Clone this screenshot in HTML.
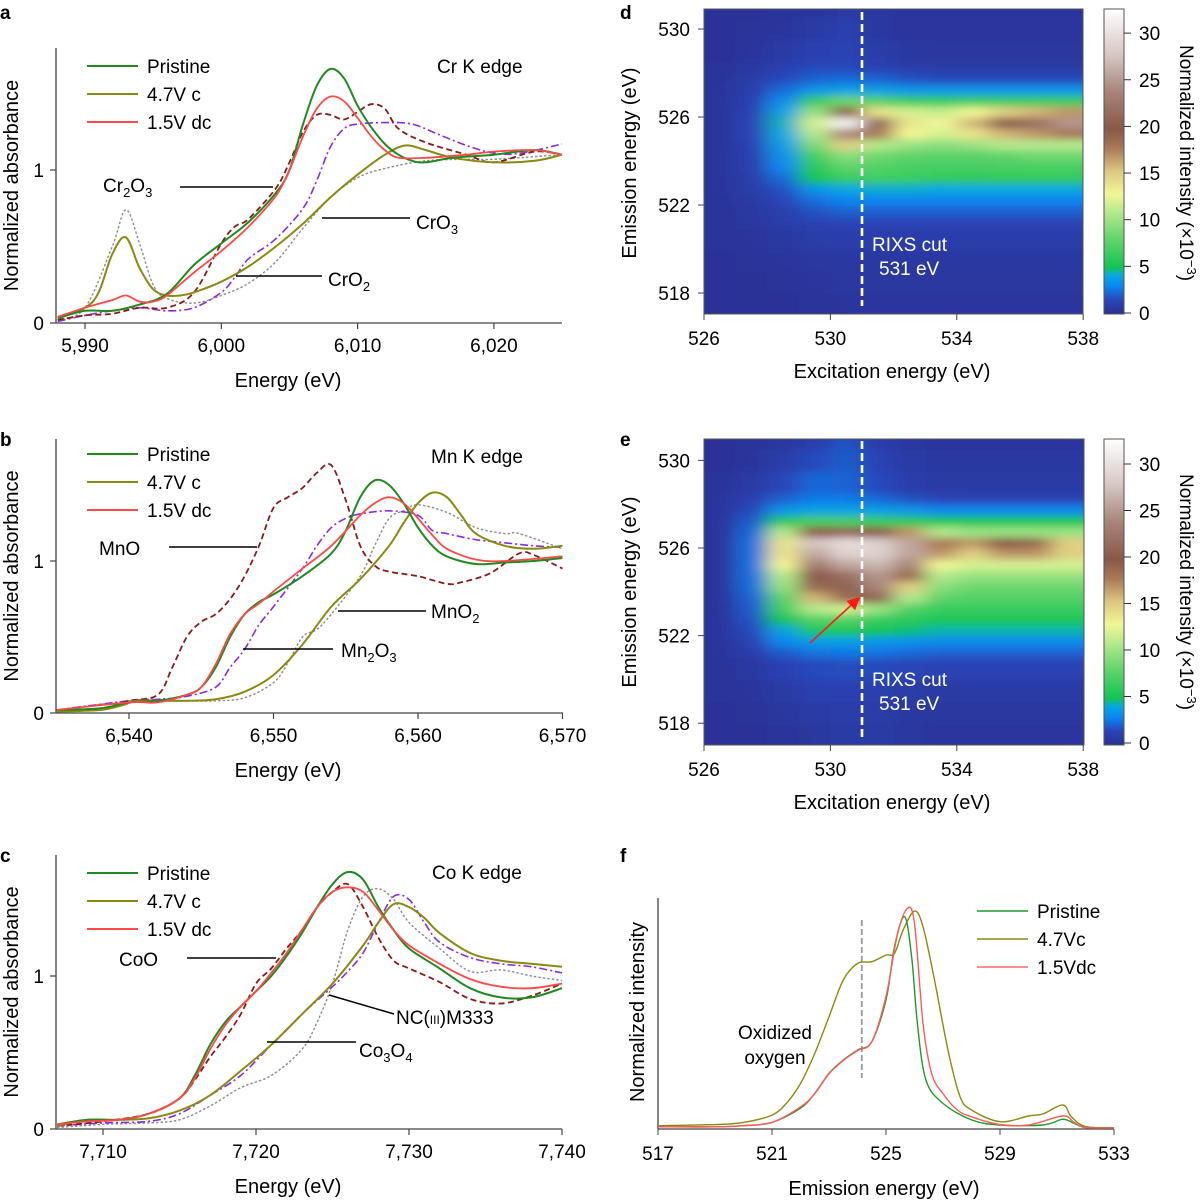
<!DOCTYPE html>
<html><head><meta charset="utf-8">
<style>
html,body{margin:0;padding:0;background:#fff;}
svg{display:block;font-family:"Liberation Sans",Arial,sans-serif;}
</style></head>
<body>
<svg id="fig" width="1200" height="1200" viewBox="0 0 1200 1200" xmlns="http://www.w3.org/2000/svg">
<defs>
<filter id="blurD" x="-5%" y="-5%" width="110%" height="110%"><feGaussianBlur stdDeviation="10 4"/></filter>
<clipPath id="clipD"><rect x="704" y="9" width="379" height="305"/></clipPath>
<clipPath id="clipE"><rect x="704" y="439" width="380" height="306"/></clipPath>
<linearGradient id="cbGrad" x1="0" y1="1" x2="0" y2="0"></linearGradient>
<marker id="arrowHead" markerWidth="8" markerHeight="8" refX="7" refY="4" orient="auto"><path d="M0,0 L8,4 L0,8 z" fill="#ff1a1a"/></marker>
</defs>
<text x="0" y="19" font-size="19" font-weight="bold">a</text>
<text x="0" y="446" font-size="19" font-weight="bold">b</text>
<text x="0" y="862" font-size="19" font-weight="bold">c</text>
<text x="620" y="19" font-size="19" font-weight="bold">d</text>
<text x="620" y="446" font-size="19" font-weight="bold">e</text>
<text x="620" y="862" font-size="19" font-weight="bold">f</text>

<g id="pa"></g>
<g id="pb"></g>
<g id="pc"></g>
<g id="pd"></g>
<g id="pe"></g>
<g id="pf"></g>

<g font-size="19">
<text x="103" y="192">Cr<tspan font-size="13" dy="5">2</tspan><tspan dy="-5">O</tspan><tspan font-size="13" dy="5">3</tspan></text>
<line x1="180" y1="187" x2="273" y2="187" stroke="#000" stroke-width="1.5"/>
<line x1="322" y1="218" x2="410" y2="218" stroke="#000" stroke-width="1.5"/>
<text x="416" y="229">CrO<tspan font-size="13" dy="5">3</tspan></text>
<line x1="236" y1="276" x2="322" y2="276" stroke="#000" stroke-width="1.5"/>
<text x="328" y="286">CrO<tspan font-size="13" dy="5">2</tspan></text>
<text x="437" y="73">Cr K edge</text>
</g>
<g font-size="19">
<text x="99" y="555">MnO</text>
<line x1="169" y1="547" x2="257" y2="547" stroke="#000" stroke-width="1.5"/>
<line x1="338" y1="611" x2="426" y2="611" stroke="#000" stroke-width="1.5"/>
<text x="431" y="618">MnO<tspan font-size="13" dy="5">2</tspan></text>
<line x1="243" y1="649" x2="333" y2="649" stroke="#000" stroke-width="1.5"/>
<text x="341" y="657">Mn<tspan font-size="13" dy="5">2</tspan><tspan dy="-5">O</tspan><tspan font-size="13" dy="5">3</tspan></text>
<text x="431" y="463">Mn K edge</text>
</g>
<g font-size="19">
<text x="119" y="966">CoO</text>
<line x1="187" y1="958" x2="276" y2="958" stroke="#000" stroke-width="1.5"/>
<line x1="329" y1="995" x2="394" y2="1014" stroke="#000" stroke-width="1.5"/>
<text x="396" y="1024">NC(<tspan font-size="12">III</tspan>)M333</text>
<line x1="267" y1="1042" x2="356" y2="1042" stroke="#000" stroke-width="1.5"/>
<text x="359" y="1057">Co<tspan font-size="13" dy="5">3</tspan><tspan dy="-5">O</tspan><tspan font-size="13" dy="5">4</tspan></text>
<text x="432" y="879">Co K edge</text>
</g>
</svg>
<script>
// ===== Panel a: Cr K edge =====
const aTicks=[5990,6000,6010,6020];
const aTickLabels=["5,990","6,000","6,010","6,020"];
const aPristine=[[5988,0.03],[5990,0.08],[5992,0.08],[5994,0.12],[5996,0.19],[5998,0.38],[6000,0.52],[6002,0.66],[6004,0.85],[6005,1.0],[6006,1.3],[6007,1.55],[6008,1.66],[6009,1.6],[6010,1.42],[6011,1.28],[6012,1.17],[6013,1.1],[6014,1.06],[6015,1.05],[6017,1.08],[6020,1.1],[6023,1.13],[6025,1.1]];
const aCharged=[[5988,0.04],[5990,0.1],[5991,0.2],[5992,0.45],[5993,0.56],[5994,0.36],[5995,0.22],[5996,0.18],[5997,0.18],[5998,0.2],[6000,0.27],[6002,0.37],[6004,0.5],[6006,0.65],[6008,0.82],[6010,0.97],[6012,1.1],[6013.5,1.16],[6015,1.13],[6017,1.08],[6020,1.05],[6023,1.06],[6025,1.1]];
const aDischarged=[[5988,0.04],[5990,0.1],[5992,0.15],[5993,0.18],[5994,0.14],[5995,0.14],[5996,0.18],[5998,0.33],[6000,0.47],[6002,0.63],[6004,0.83],[6005,1.0],[6006,1.22],[6007,1.4],[6008,1.48],[6009,1.45],[6010,1.34],[6011,1.22],[6012,1.13],[6013,1.08],[6015,1.08],[6018,1.1],[6020,1.12],[6023,1.13],[6025,1.1]];
const aCr2O3=[[5988,0.02],[5990,0.05],[5992,0.06],[5994,0.1],[5996,0.1],[5998,0.2],[6000,0.52],[6001,0.63],[6002,0.68],[6004,0.88],[6005,1.05],[6006,1.25],[6007,1.36],[6008,1.36],[6009,1.33],[6010,1.38],[6011,1.43],[6012,1.4],[6013,1.27],[6015,1.18],[6018,1.1],[6020,1.05],[6023,1.12],[6025,1.1]];
const aCrO2=[[5988,0.01],[5990,0.05],[5992,0.08],[5994,0.1],[5996,0.08],[5998,0.1],[6000,0.2],[6001,0.3],[6002,0.42],[6004,0.55],[6006,0.75],[6007,0.93],[6008,1.15],[6009,1.27],[6010,1.3],[6012,1.31],[6014,1.3],[6016,1.23],[6018,1.16],[6020,1.11],[6022,1.11],[6025,1.17]];
const aCrO3=[[5988,0.02],[5990,0.1],[5992,0.5],[5993,0.74],[5994,0.52],[5995,0.25],[5996,0.16],[5998,0.13],[6000,0.18],[6002,0.26],[6004,0.4],[6006,0.62],[6008,0.82],[6010,0.95],[6012,1.01],[6015,1.06],[6018,1.07],[6020,1.07],[6025,1.1]];
// ===== Panel b: Mn K edge =====
const bTicks=[6540,6550,6560,6570];
const bTickLabels=["6,540","6,550","6,560","6,570"];
const bPristine=[[6535,0.02],[6538,0.03],[6540,0.07],[6542,0.08],[6544,0.12],[6545,0.17],[6546,0.3],[6547,0.5],[6548,0.65],[6549,0.73],[6550,0.78],[6552,0.9],[6554,1.05],[6555,1.2],[6556,1.42],[6557,1.53],[6558,1.5],[6559,1.38],[6560,1.22],[6561,1.1],[6562,1.03],[6564,0.98],[6566,0.99],[6568,1.0],[6570,1.02]];
const bCharged=[[6535,0.01],[6538,0.02],[6539.5,0.05],[6540.5,0.08],[6542,0.08],[6544,0.08],[6546,0.09],[6548,0.14],[6550,0.25],[6552,0.45],[6554,0.7],[6556,0.88],[6558,1.1],[6559,1.25],[6560,1.38],[6561,1.45],[6562,1.42],[6563,1.3],[6564,1.18],[6566,1.1],[6568,1.08],[6570,1.1]];
const bDischarged=[[6535,0.02],[6540,0.07],[6542,0.07],[6544,0.12],[6545,0.17],[6546,0.32],[6547,0.52],[6548,0.65],[6549,0.72],[6550,0.8],[6552,0.95],[6554,1.1],[6556,1.3],[6557,1.38],[6558,1.42],[6559,1.38],[6560,1.28],[6561,1.17],[6562,1.08],[6564,1.01],[6566,1.0],[6570,1.03]];
const bMnO=[[6535,0.02],[6538,0.03],[6540,0.08],[6542,0.12],[6543,0.3],[6544,0.5],[6545,0.6],[6546,0.65],[6547,0.75],[6548,0.9],[6549,1.1],[6550,1.35],[6551,1.42],[6552,1.48],[6553,1.58],[6554,1.63],[6555,1.4],[6556,1.1],[6557,0.97],[6558,0.93],[6560,0.9],[6562,0.85],[6563,0.86],[6565,0.92],[6567,1.05],[6568,1.04],[6570,0.95]];
const bMn2O3=[[6535,0.02],[6540,0.08],[6542,0.09],[6544,0.11],[6546,0.17],[6547,0.3],[6548,0.42],[6549,0.58],[6550,0.7],[6552,0.95],[6553,1.1],[6554,1.22],[6555,1.28],[6556,1.31],[6558,1.33],[6560,1.3],[6561,1.2],[6562,1.18],[6564,1.14],[6566,1.12],[6568,1.1],[6570,1.09]];
const bMnO2=[[6535,0.02],[6540,0.08],[6542,0.09],[6544,0.08],[6546,0.08],[6548,0.1],[6550,0.2],[6551,0.33],[6552,0.5],[6553,0.55],[6554,0.65],[6556,0.9],[6557,1.1],[6558,1.28],[6559,1.33],[6560,1.37],[6562,1.32],[6564,1.22],[6566,1.18],[6567,1.18],[6570,1.08]];
// ===== Panel c: Co K edge =====
const cTicks=[7710,7720,7730,7740];
const cTickLabels=["7,710","7,720","7,730","7,740"];
const cPristine=[[7707,0.03],[7709,0.06],[7711,0.06],[7713,0.1],[7715,0.2],[7716,0.35],[7717,0.55],[7718,0.7],[7719,0.8],[7720,0.9],[7721,1.0],[7722,1.13],[7723,1.28],[7724,1.45],[7725,1.6],[7726,1.68],[7727,1.63],[7728,1.45],[7729,1.3],[7730,1.18],[7732,1.05],[7734,0.92],[7736,0.86],[7738,0.86],[7740,0.92]];
const cCharged=[[7707,0.02],[7709,0.06],[7711,0.06],[7713,0.07],[7715,0.12],[7717,0.22],[7719,0.38],[7721,0.55],[7723,0.75],[7725,0.95],[7727,1.2],[7728,1.35],[7729,1.47],[7730,1.45],[7731,1.38],[7732,1.28],[7734,1.15],[7736,1.1],[7738,1.08],[7740,1.06]];
const cDischarged=[[7707,0.03],[7709,0.05],[7711,0.06],[7713,0.1],[7715,0.2],[7716,0.33],[7717,0.52],[7718,0.68],[7719,0.8],[7720,0.9],[7721,1.02],[7722,1.15],[7723,1.3],[7724,1.45],[7725,1.55],[7726,1.58],[7727,1.55],[7728,1.43],[7729,1.3],[7730,1.2],[7732,1.08],[7734,0.98],[7736,0.93],[7738,0.92],[7740,0.95]];
const cCoO=[[7707,0.02],[7710,0.05],[7713,0.1],[7715,0.2],[7716,0.32],[7717,0.47],[7718,0.6],[7719,0.75],[7720,0.95],[7721,1.05],[7722,1.18],[7723,1.3],[7724,1.45],[7725,1.55],[7726,1.6],[7727,1.45],[7728,1.25],[7729,1.1],[7730,1.05],[7732,0.96],[7734,0.85],[7736,0.82],[7738,0.87],[7740,0.95]];
const cNCM=[[7707,0.02],[7710,0.04],[7713,0.05],[7715,0.1],[7717,0.22],[7719,0.35],[7721,0.55],[7723,0.75],[7725,0.93],[7726,1.03],[7727,1.15],[7728,1.35],[7729,1.52],[7730,1.5],[7731,1.35],[7732,1.22],[7734,1.12],[7736,1.08],[7738,1.06],[7740,1.02]];
const cCo3O4=[[7707,0.01],[7710,0.03],[7713,0.04],[7715,0.06],[7717,0.15],[7719,0.27],[7721,0.35],[7723,0.52],[7724,0.7],[7725,0.95],[7726,1.3],[7727,1.52],[7728,1.57],[7729,1.5],[7730,1.35],[7732,1.18],[7734,1.03],[7736,1.04],[7738,1.0],[7740,0.97]];
// ===== Panels d/e: RIXS maps =====
const mapExcEdges=[526,527,528,529,530,531,532,533,534,535,536,537,538];
const mapEmEdges=[517,518,519,520,521,521.5,522,522.5,523,523.5,524,524.5,525,525.5,526,526.5,527,527.5,528,528.5,529.5,530.5,531];
const mapXTicks=[526,530,534,538];
const mapYTicks=[518,522,526,530];
const cbTicks=[0,5,10,15,20,25,30];
const dValues=[
[0.3,0.3,0.3,0.4,0.5,0.5,0.5,0.5,0.5,0.5,0.5,0.5],
[0.3,0.3,0.4,0.5,0.6,0.6,0.6,0.6,0.6,0.6,0.6,0.6],
[0.3,0.4,0.5,0.6,0.7,0.7,0.7,0.7,0.7,0.7,0.7,0.7],
[0.4,0.5,0.7,0.9,1.0,1.0,1.0,1.0,1.0,1.0,1.0,1.0],
[0.4,0.6,0.9,1.3,1.5,1.5,1.5,1.5,1.5,1.5,1.5,1.5],
[0.4,0.7,1.1,1.8,2.2,2.2,2.2,2.2,2.2,2.2,2.2,2.2],
[0.4,0.8,1.4,2.5,3.0,3.0,3.0,3.0,3.0,3.0,3.0,3.0],
[0.5,0.9,1.8,3.5,4.2,4.3,4.3,4.2,4.2,4.2,4.2,4.2],
[0.5,1.0,2.4,5.0,6.5,6.8,6.5,6.3,6.2,6.2,6.2,6.2],
[0.5,1.1,3.0,6.0,8.0,7.5,7.2,7.0,7.0,7.2,7.2,7.2],
[0.5,1.2,3.4,7.0,9.5,8.5,8.0,7.8,7.8,8.0,8.5,8.5],
[0.5,1.3,3.8,9.0,15,11,10,9.5,10,11,11,11],
[0.5,1.4,4.2,11,24,18,13,12,14,16,17,18],
[0.5,1.4,4.4,12,32,21,14,13,16,20,22,25],
[0.5,1.3,4.0,10,20,14,12,11.5,13,15,16,17],
[0.5,1.2,3.2,6.5,8.5,7.5,6.5,6.3,6.5,6.5,6.5,6.5],
[0.5,1.0,2.4,3.5,4.0,3.8,3.5,3.5,3.5,3.5,3.5,3.5],
[0.4,0.9,1.6,2.2,2.4,2.2,1.8,1.6,1.6,1.6,1.6,1.6],
[0.4,0.7,1.2,1.6,1.6,1.3,1.0,0.9,0.9,0.9,0.9,0.9],
[0.3,0.5,0.8,1.2,1.3,0.9,0.7,0.6,0.6,0.6,0.6,0.6],
[0.3,0.4,0.5,0.8,1.1,0.7,0.5,0.5,0.5,0.5,0.5,0.5],
[0.3,0.3,0.4,0.5,0.8,0.6,0.5,0.5,0.5,0.5,0.5,0.5]];
const eValues=[
[0.3,0.3,0.4,0.6,0.8,0.8,0.6,0.5,0.5,0.5,0.5,0.5],
[0.3,0.4,0.6,0.8,1.0,0.9,0.7,0.6,0.6,0.6,0.6,0.6],
[0.4,0.5,0.8,1.1,1.2,1.1,0.9,0.8,0.8,0.8,0.8,0.8],
[0.4,0.7,1.2,1.6,1.7,1.6,1.4,1.3,1.3,1.3,1.3,1.3],
[0.5,1.0,2.0,2.6,2.7,2.6,2.4,2.2,2.2,2.2,2.2,2.2],
[0.5,1.3,3.0,3.8,3.8,3.6,3.4,3.2,3.2,3.2,3.2,3.2],
[0.5,1.6,4.0,5.5,5.5,5.0,4.8,4.5,4.5,4.5,4.5,4.5],
[0.5,1.8,5.0,7.5,7.5,6.5,6.0,5.5,5.5,5.5,5.5,5.5],
[0.5,2.0,7.0,11,12,10,7.5,6.5,6.5,6.5,6.5,6.5],
[0.5,2.2,8.0,16,19,21,11,8.0,7.5,7.5,7.5,7.5],
[0.5,2.4,10,19,21,24,15,9.5,8.5,8.5,8.5,8.5],
[0.5,2.5,11,20,22,25,19,11,10,10,10,10],
[0.5,2.5,13,23,26,27,24,13,12,12,12,12],
[0.5,2.5,14,26,29,29,26,17,15,17,17,15],
[0.5,2.5,14,28,30,29,26,18,17,20,19,15],
[0.5,2.3,11,20,21,20,17,11,10,10,10,10],
[0.5,2.0,6.0,7.0,7.0,6.5,6.0,5.5,5.5,5.5,5.5,5.5],
[0.5,1.6,3.5,4.0,4.0,3.8,3.5,3.0,3.0,3.0,3.0,3.0],
[0.5,1.2,2.2,2.8,2.8,2.4,1.8,1.5,1.4,1.4,1.4,1.4],
[0.4,0.8,1.5,2.3,2.2,1.6,1.0,0.8,0.8,0.8,0.8,0.8],
[0.3,0.5,0.9,1.6,2.0,1.3,0.8,0.7,0.7,0.7,0.7,0.7],
[0.3,0.4,0.6,1.0,1.8,1.0,0.6,0.5,0.5,0.5,0.5,0.5]];
// ===== Panel f: RIXS cut =====
const fTicks=[517,521,525,529,533];
const fPristine=[[517,0.01],[519,0.01],[520,0.015],[521,0.03],[522,0.094],[522.5,0.161],[523,0.252],[523.5,0.312],[524,0.357],[524.5,0.395],[525,0.584],[525.3,0.825],[525.65,0.961],[525.9,0.78],[526.1,0.478],[526.4,0.222],[527,0.116],[528,0.041],[529,0.018],[530.5,0.018],[531.2,0.044],[531.6,0.026],[532,0.007],[533,0.005]];
const fCharged=[[517,0.015],[519,0.02],[520,0.03],[521,0.063],[521.5,0.116],[522,0.206],[522.5,0.342],[523,0.508],[523.5,0.674],[524,0.749],[524.5,0.757],[525,0.787],[525.3,0.795],[525.6,0.9],[526.0,0.986],[526.3,0.915],[526.7,0.674],[527.2,0.342],[527.6,0.146],[528,0.086],[529,0.033],[530,0.059],[530.5,0.068],[531.2,0.109],[531.5,0.056],[532,0.011],[533,0.005]];
const fDischarged=[[517,0.01],[519,0.01],[520,0.015],[521,0.03],[522,0.1],[522.5,0.16],[523,0.25],[523.5,0.31],[524,0.355],[524.5,0.395],[525,0.6],[525.4,0.88],[525.75,0.998],[526.0,0.93],[526.3,0.478],[526.6,0.252],[527,0.16],[527.5,0.086],[528,0.055],[529,0.02],[530,0.018],[531.2,0.059],[531.6,0.03],[532,0.007],[533,0.005]];

const NS="http://www.w3.org/2000/svg";
const FT=19, FL=19, FA=20;
function el(tag,attrs,parent){const e=document.createElementNS(NS,tag);for(const k in attrs)e.setAttribute(k,attrs[k]);parent.appendChild(e);return e;}
function smoothPath(pts){
  let d="M"+pts[0][0].toFixed(1)+","+pts[0][1].toFixed(1);
  for(let i=0;i<pts.length-1;i++){
    const p0=pts[i-1]||pts[i],p1=pts[i],p2=pts[i+1],p3=pts[i+2]||p2;
    const c1x=p1[0]+(p2[0]-p0[0])/6,c1y=p1[1]+(p2[1]-p0[1])/6;
    const c2x=p2[0]-(p3[0]-p1[0])/6,c2y=p2[1]-(p3[1]-p1[1])/6;
    d+=" C"+c1x.toFixed(1)+","+c1y.toFixed(1)+" "+c2x.toFixed(1)+","+c2y.toFixed(1)+" "+p2[0].toFixed(1)+","+p2[1].toFixed(1);
  }
  return d;
}
const GREEN="#1f8a1f",OLIVE="#8a8a10",RED="#ff4848",DRED="#8b1a1a",PURP="#8a2be2",GREY="#8c8c8c";

function xasPanel(g,cfg){
  const sx=E=>cfg.xa+(E-cfg.ea)*cfg.k, sy=v=>cfg.y0-v*cfg.ky;
  let ax=el("line",{x1:cfg.left,y1:cfg.y0,x2:cfg.right,y2:cfg.y0,stroke:"#444","stroke-width":1.3},g);
  
  
  let ay=el("line",{x1:cfg.left,y1:cfg.top,x2:cfg.left,y2:cfg.y0,stroke:"#444","stroke-width":1.3},g);
  
  
  cfg.ticks.forEach((t,i)=>{
    let tk=el("line",{x1:sx(t),y1:cfg.y0,x2:sx(t),y2:cfg.y0+6,stroke:"#444","stroke-width":1.2},g);
    
    
    let tl=el("text",{x:sx(t),y:cfg.y0+29,"font-size":FT,"text-anchor":"middle"},g);
    tl.textContent=cfg.labels[i];
    
    
  });
  [0,1].forEach(v=>{
    let tk=el("line",{x1:cfg.left-6,y1:sy(v),x2:cfg.left,y2:sy(v),stroke:"#444","stroke-width":1.2},g);
    
    
    let tl=el("text",{x:cfg.left-12,y:sy(v)+7,"font-size":FT,"text-anchor":"end"},g);
    tl.textContent=String(v);
    
    
  });
  let xt=el("text",{x:288,y:cfg.y0+64,"font-size":FA,"text-anchor":"middle"},g);
  xt.textContent="Energy (eV)";
  
  
  const cy=(cfg.top+cfg.y0)/2;
  let yt=el("text",{x:0,y:0,"font-size":FA,"text-anchor":"middle",transform:"translate(18,"+cy+") rotate(-90)"},g);
  yt.textContent="Normalized absorbance";
  
  
  cfg.series.forEach(s=>{
    const pts=s.data.map(p=>[sx(p[0]),sy(p[1])]);
    let p=el("path",{d:smoothPath(pts),fill:"none",stroke:s.color,"stroke-width":s.w||1.8,"stroke-dasharray":s.dash||"none","stroke-linejoin":"round"},g);
    
    
  });
  const names=["Pristine","4.7V c","1.5V dc"],cols=[GREEN,OLIVE,RED];
  names.forEach((n,i)=>{
    const y=cfg.legY+i*28;
    let l=el("line",{x1:87,y1:y,x2:138,y2:y,stroke:cols[i],"stroke-width":2},g);
    
    
    let t=el("text",{x:147,y:y+7,"font-size":FL},g);
    t.textContent=n;
    
    
  });
}

xasPanel(document.getElementById("pa"),{xa:85,ea:5990,k:13.63,y0:323,ky:153,left:56,right:562,top:48,ticks:aTicks,labels:aTickLabels,legY:66,
 series:[{data:aCrO3,color:GREY,dash:"2.5,2",w:1.4,name:"series-cro3"},{data:aCrO2,color:PURP,dash:"8,3,2,3",w:1.6,name:"series-cro2"},{data:aCr2O3,color:DRED,dash:"6,3.5",w:1.8,name:"series-cr2o3"},{data:aCharged,color:OLIVE,w:2,name:"series-4-7v-c"},{data:aPristine,color:GREEN,w:2,name:"series-pristine"},{data:aDischarged,color:RED,w:1.8,name:"series-1-5v-dc"}]});
xasPanel(document.getElementById("pb"),{xa:129,ea:6540,k:14.45,y0:713,ky:152,left:56,right:563,top:439,ticks:bTicks,labels:bTickLabels,legY:454,
 series:[{data:bMnO2,color:GREY,dash:"2.5,2",w:1.4,name:"series-mno2"},{data:bMn2O3,color:PURP,dash:"8,3,2,3",w:1.6,name:"series-mn2o3"},{data:bMnO,color:DRED,dash:"6,3.5",w:1.8,name:"series-mno"},{data:bCharged,color:OLIVE,w:2,name:"series-4-7v-c"},{data:bPristine,color:GREEN,w:2,name:"series-pristine"},{data:bDischarged,color:RED,w:1.8,name:"series-1-5v-dc"}]});
xasPanel(document.getElementById("pc"),{xa:103,ea:7710,k:15.3,y0:1129,ky:153,left:56,right:562,top:855,ticks:cTicks,labels:cTickLabels,legY:873,
 series:[{data:cCo3O4,color:GREY,dash:"2.5,2",w:1.4,name:"series-co3o4"},{data:cNCM,color:PURP,dash:"8,3,2,3",w:1.6,name:"series-ncm333"},{data:cCoO,color:DRED,dash:"6,3.5",w:1.8,name:"series-coo"},{data:cCharged,color:OLIVE,w:2,name:"series-4-7v-c"},{data:cPristine,color:GREEN,w:2,name:"series-pristine"},{data:cDischarged,color:RED,w:1.8,name:"series-1-5v-dc"}]});

const CM=[[0,"#2b2f8f"],[1.5,"#2a45b8"],[3,"#0a86f0"],[4.2,"#0aa8e0"],[5,"#12c455"],[8,"#5fd36a"],[11,"#b5e98e"],[13,"#f2f796"],[15.5,"#dcc580"],[18,"#a87858"],[20,"#895848"],[24,"#a78478"],[28,"#d6c6c2"],[33,"#ffffff"]];
function hex2rgb(h){return[parseInt(h.substr(1,2),16),parseInt(h.substr(3,2),16),parseInt(h.substr(5,2),16)];}
function cmap(v){
  if(v<=CM[0][0])return CM[0][1];
  for(let i=1;i<CM.length;i++){if(v<=CM[i][0]){const a=hex2rgb(CM[i-1][1]),b=hex2rgb(CM[i][1]),t=(v-CM[i-1][0])/(CM[i][0]-CM[i-1][0]);return "rgb("+a.map((x,j)=>Math.round(x+(b[j]-x)*t)).join(",")+")";}}
  return CM[CM.length-1][1];
}
const grad=document.getElementById("cbGrad");
CM.forEach(s=>{el("stop",{offset:(s[0]/33*100).toFixed(1)+"%","stop-color":s[1]},grad);});

function mapPanel(g,cfg){
  const sx=E=>704+(E-526)*31.6, sy=E=>cfg.y526+(526-E)*cfg.kyy;
  el("rect",{x:704,y:cfg.top,width:cfg.right-704,height:cfg.bottom-cfg.top,fill:"#2b2f8f"},g);
  const cg=el("g",{"clip-path":"url(#"+cfg.clip+")"},g);
  const hg=el("g",{filter:"url(#blurD)"},cg);
  
  
  const nr=mapEmEdges.length-1,nc=mapExcEdges.length-1;
  for(let r=0;r<nr;r++){for(let c=0;c<nc;c++){
    let x0=sx(mapExcEdges[c]),x1=sx(mapExcEdges[c+1]);
    let y0=sy(mapEmEdges[r+1]),y1=sy(mapEmEdges[r]);
    if(c===0)x0-=20; if(c===nc-1)x1+=20; if(r===0)y1+=20; if(r===nr-1)y0-=20;
    let cell=el("rect",{x:x0.toFixed(1),y:y0.toFixed(1),width:(x1-x0+0.6).toFixed(1),height:(y1-y0+0.6).toFixed(1),fill:cmap(cfg.values[r][c])},hg);
    
    
  }}
  el("rect",{x:704,y:cfg.top,width:cfg.right-704,height:cfg.bottom-cfg.top,fill:"none",stroke:"#555","stroke-width":1},g);
  let dl=el("line",{x1:sx(531),y1:cfg.dashTop,x2:sx(531),y2:cfg.dashBot,stroke:"#fff","stroke-width":2.6,"stroke-dasharray":"8,4"},g);
  
  
  let t1=el("text",{x:872,y:cfg.textY,"font-size":FL,fill:"#fff"},g);
  t1.textContent="RIXS cut";
  
  
  let t2=el("text",{x:879,y:cfg.textY+24,"font-size":FL,fill:"#fff"},g);
  t2.textContent="531 eV";
  
  
  mapXTicks.forEach(t=>{
    let tk=el("line",{x1:sx(t),y1:cfg.bottom,x2:sx(t),y2:cfg.bottom+6,stroke:"#444"},g);
    
    
    let tl=el("text",{x:sx(t),y:cfg.bottom+31,"font-size":FT,"text-anchor":"middle"},g);
    tl.textContent=String(t);
    
    
  });
  mapYTicks.forEach(t=>{
    let tk=el("line",{x1:698,y1:sy(t),x2:704,y2:sy(t),stroke:"#444"},g);
    
    
    let tl=el("text",{x:690,y:sy(t)+7,"font-size":FT,"text-anchor":"end"},g);
    tl.textContent=String(t);
    
    
  });
  let xt=el("text",{x:892,y:cfg.bottom+64,"font-size":FA,"text-anchor":"middle"},g);
  xt.textContent="Excitation energy (eV)";
  
  
  let yt=el("text",{x:0,y:0,"font-size":FA,"text-anchor":"middle",transform:"translate(636,"+cfg.ytitleY+") rotate(-90)"},g);
  yt.textContent="Emission energy (eV)";
  
  
  const cb0=cfg.cbZero,cbk=cfg.cbK;
  let cb=el("rect",{x:1104,y:cfg.top,width:20,height:cfg.bottom-cfg.top,fill:"url(#cbGrad)",stroke:"#555","stroke-width":1},g);
  
  
  cbTicks.forEach(t=>{
    let tk=el("line",{x1:1124,y1:cb0-t*cbk,x2:1131,y2:cb0-t*cbk,stroke:"#333"},g);
    
    
    let tl=el("text",{x:1139,y:cb0-t*cbk+7,"font-size":FT},g);
    tl.textContent=String(t);
    
    
  });
  let cl=el("text",{x:0,y:0,"font-size":FL,"text-anchor":"middle",transform:"translate(1180,"+cfg.ytitleY+") rotate(90)"},g);
  
  
  cl.appendChild(document.createTextNode("Normalized intensity (\u00d710"));
  let sup=el("tspan",{"font-size":13,dy:-7},cl);
  sup.textContent="\u22123";
  let cls=el("tspan",{dy:7},cl);
  cls.textContent=")";
}
mapPanel(document.getElementById("pd"),{values:dValues,clip:"clipD",top:9,bottom:314,right:1083,y526:117,kyy:22,dashTop:12,dashBot:306,textY:251,ytitleY:163,cbZero:313,cbK:9.33});
mapPanel(document.getElementById("pe"),{values:eValues,clip:"clipE",top:439,bottom:745,right:1084,y526:548,kyy:21.9,dashTop:441,dashBot:737,textY:686,ytitleY:592,cbZero:743,cbK:9.3});
(function(){const g=document.getElementById("pe");
 let ar=el("line",{x1:810,y1:643,x2:859,y2:598,stroke:"#ff1a1a","stroke-width":1.6,"marker-end":"url(#arrowHead)"},g);
 
 })();

(function(){
  const g=document.getElementById("pf");
  const sx=E=>658+(E-517)*28.5, sy=v=>1129-v*221;
  let ax=el("line",{x1:658,y1:1129,x2:1114,y2:1129,stroke:"#444","stroke-width":1.3},g);
  
  
  let ay=el("line",{x1:658,y1:898,x2:658,y2:1129,stroke:"#444","stroke-width":1.3},g);
  
  
  fTicks.forEach(t=>{
    let tk=el("line",{x1:sx(t),y1:1129,x2:sx(t),y2:1135,stroke:"#444"},g);
    
    
    let tl=el("text",{x:sx(t),y:1160,"font-size":FT,"text-anchor":"middle"},g);
    tl.textContent=String(t);
    
    
  });
  let xt=el("text",{x:884,y:1195,"font-size":FA,"text-anchor":"middle"},g);
  xt.textContent="Emission energy (eV)";
  
  
  let yt=el("text",{x:0,y:0,"font-size":FA,"text-anchor":"middle",transform:"translate(644,1012) rotate(-90)"},g);
  yt.textContent="Normalized intensity";
  
  
  let dl=el("line",{x1:sx(524.15),y1:920,x2:sx(524.15),y2:1078,stroke:"#999","stroke-width":1.8,"stroke-dasharray":"6,3"},g);
  
  
  let o1=el("text",{x:775,y:1039,"font-size":FL,"text-anchor":"middle"},g);
  o1.textContent="Oxidized";
  
  
  let o2=el("text",{x:775,y:1064,"font-size":FL,"text-anchor":"middle"},g);
  o2.textContent="oxygen";
  
  
  [[fCharged,OLIVE,"series-4-7vc"],[fPristine,"#1f9a2a","series-pristine"],[fDischarged,"#ff5a5a","series-1-5vdc"]].forEach(s=>{
    const pts=s[0].map(p=>[sx(p[0]),sy(p[1])]);
    let p=el("path",{d:smoothPath(pts),fill:"none",stroke:s[1],"stroke-width":1.4},g);
    
    
  });
  const names=["Pristine","4.7Vc","1.5Vdc"],cols=["#1f9a2a",OLIVE,"#ff6a6a"];
  names.forEach((n,i)=>{
    const y=911+i*28;
    let l=el("line",{x1:977,y1:y,x2:1028,y2:y,stroke:cols[i],"stroke-width":1.6},g);
    
    
    let t=el("text",{x:1037,y:y+7,"font-size":FL},g);
    t.textContent=n;
    
    
  });
})();
</script>
</body></html>
